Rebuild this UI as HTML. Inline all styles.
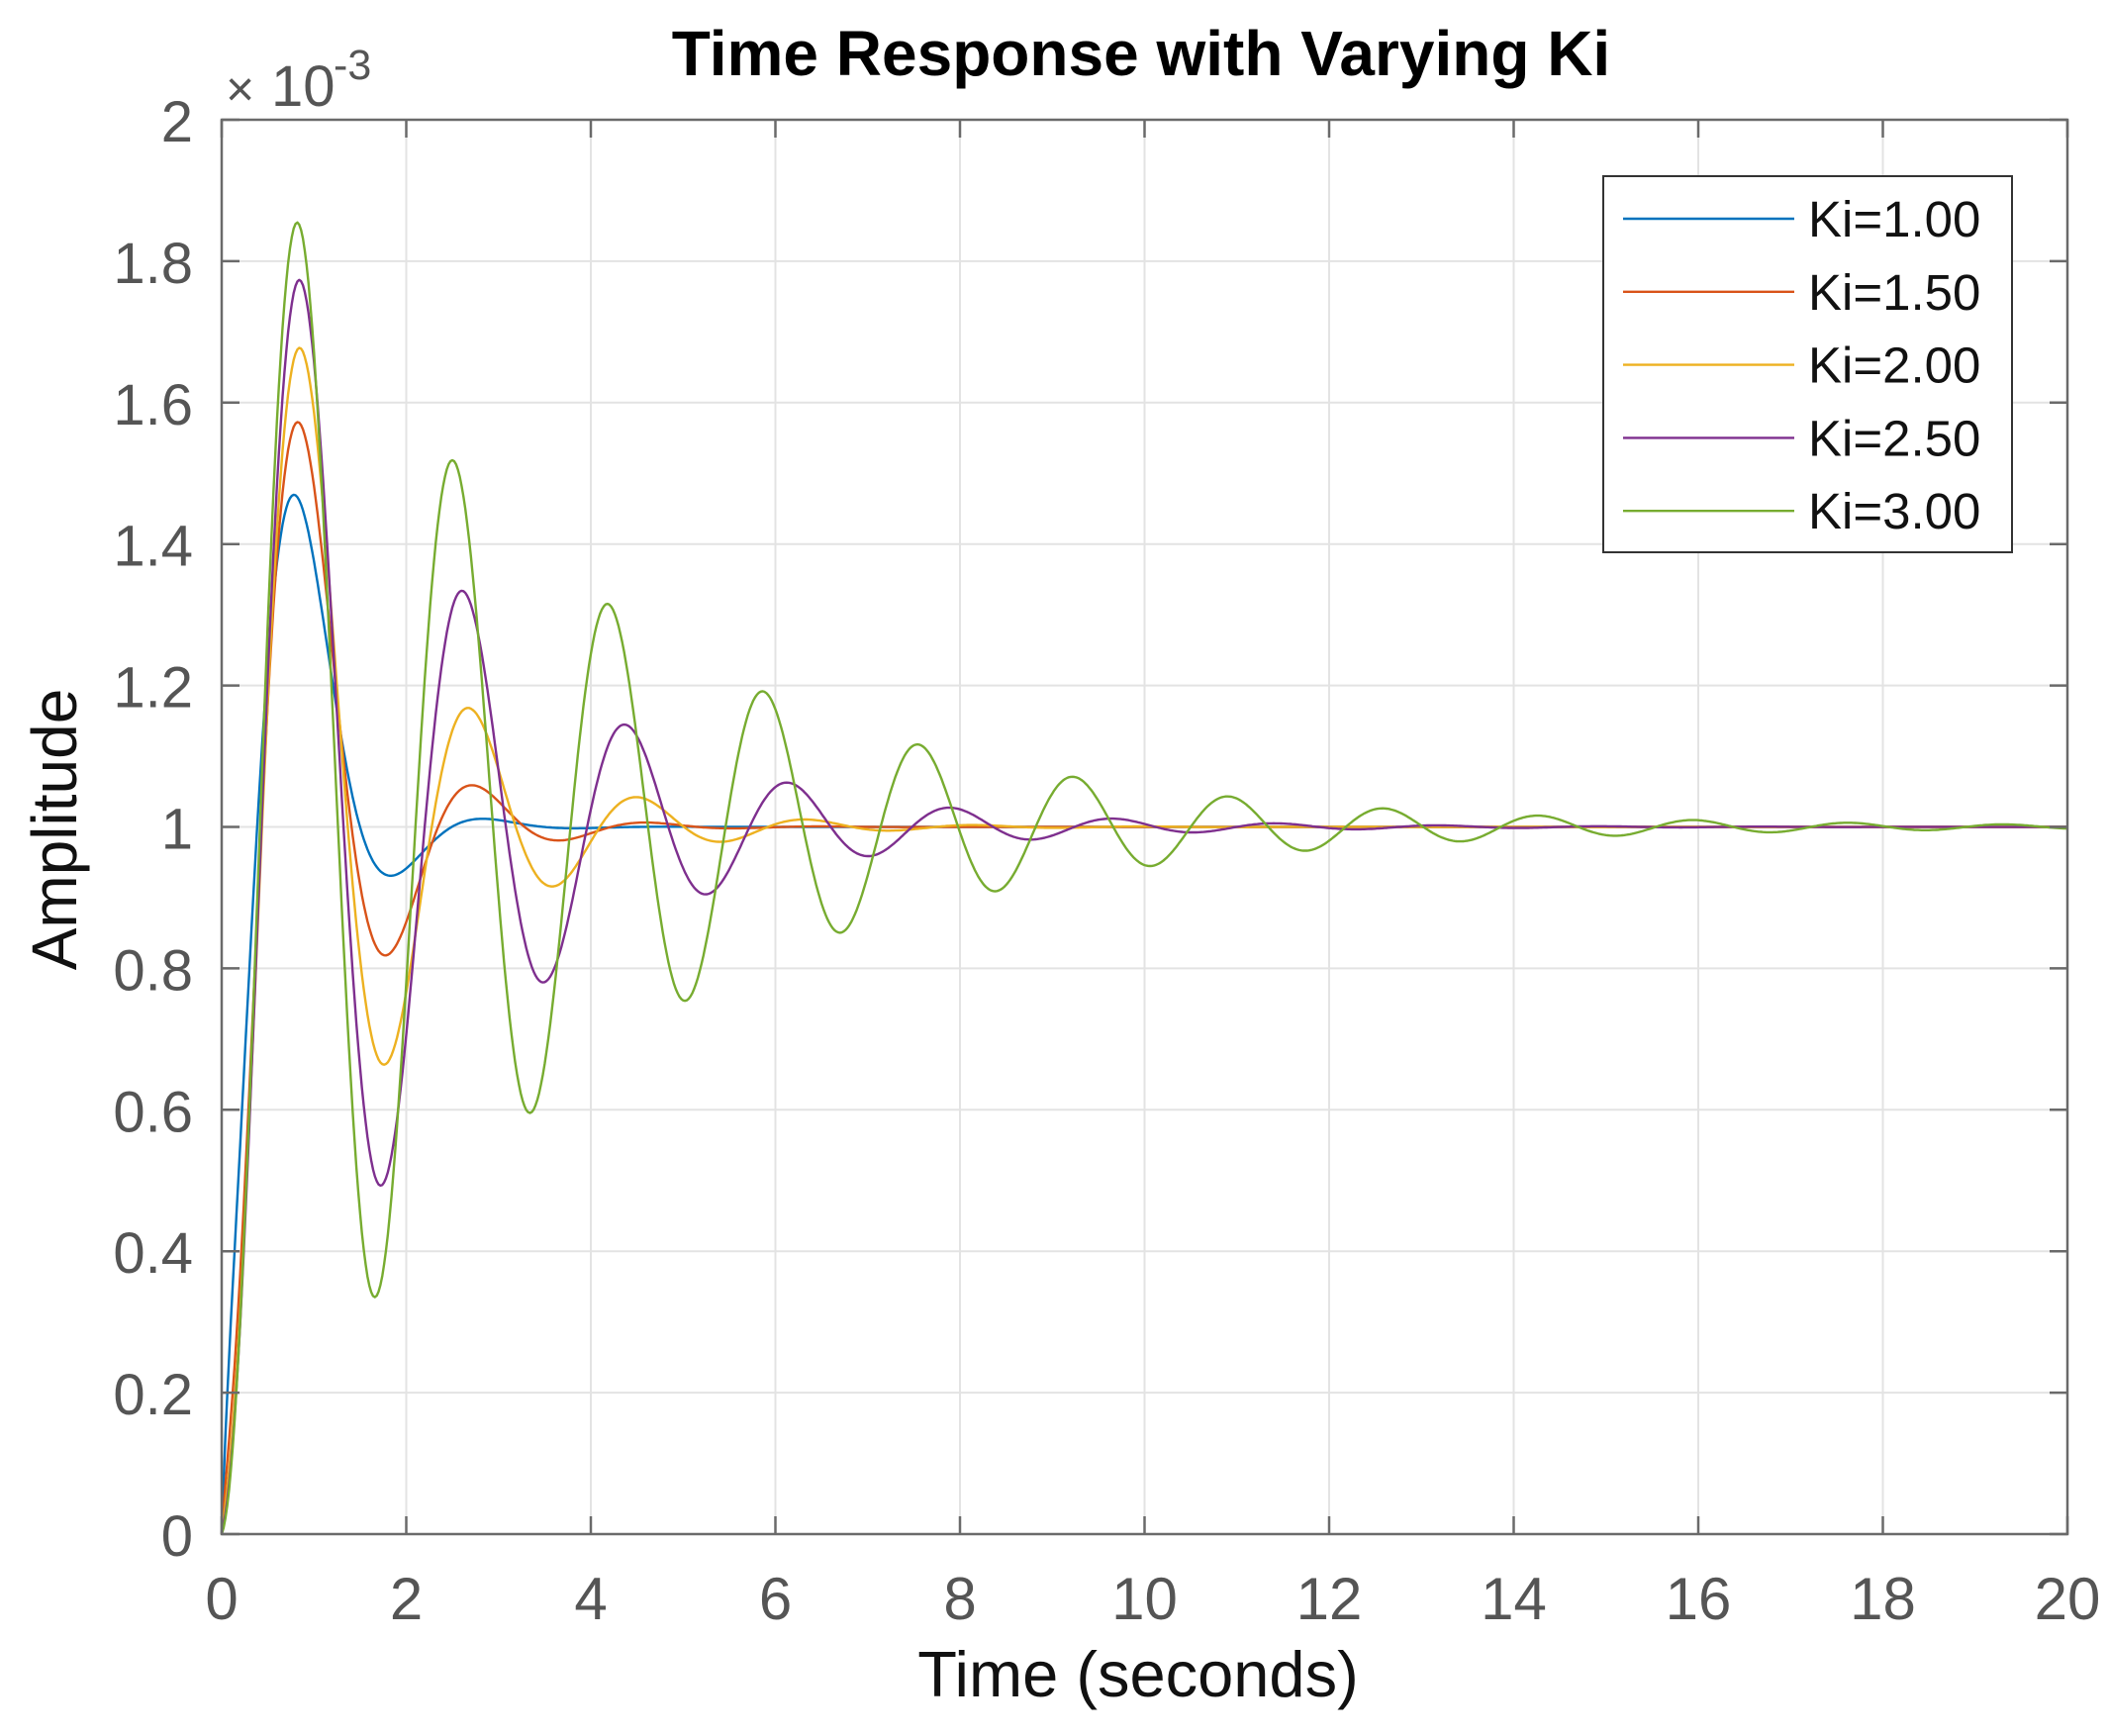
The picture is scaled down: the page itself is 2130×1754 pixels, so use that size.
<!DOCTYPE html>
<html><head><meta charset="utf-8"><style>
html,body{margin:0;padding:0;background:#fff;}
svg{display:block;font-family:"Liberation Sans",Arial,sans-serif;}
</style></head><body>
<svg id="s" width="2130" height="1754" viewBox="0 0 2130 1754" xmlns="http://www.w3.org/2000/svg">
<rect width="2130" height="1754" fill="#fff"/>
<g id="grid" stroke="#e3e3e3" stroke-width="2"></g>
<g id="curves" fill="none" stroke-width="2.4" stroke-linejoin="round"></g>
<rect x="224" y="121" width="1865" height="1429" fill="none" stroke="#6a6a6a" stroke-width="2.5"/>
<g id="ticks" stroke="#6a6a6a" stroke-width="2.5"></g>
<g id="labels" fill="#555" font-size="58"></g>
<text x="1153" y="76" text-anchor="middle" font-size="64" font-weight="bold" fill="#000">Time Response with Varying Ki</text>
<text x="1150" y="1714" text-anchor="middle" font-size="65" fill="#111">Time (seconds)</text>
<text transform="translate(77,838) rotate(-90)" text-anchor="middle" font-size="64" fill="#111">Amplitude</text>
<text x="228" y="107" font-size="50" fill="#555">×</text>
<text x="274" y="107" font-size="58" fill="#555">10</text>
<text x="337" y="80" font-size="43" fill="#555">-3</text>
<rect x="1620" y="178" width="413" height="380" fill="#fff" stroke="#333" stroke-width="2"/>
<g id="legend" font-size="51" fill="#111"></g>
</svg>
<script>
var X0=224,X1=2089,Y0=1550,Y1=121;
function px(t){return X0+(X1-X0)*t/20;}
function py(v){return Y0-(Y0-Y1)*v/2;}
var g=document.getElementById('grid'),tk=document.getElementById('ticks'),lb=document.getElementById('labels');
var NS="http://www.w3.org/2000/svg";
function el(p,n,a,txt){var e=document.createElementNS(NS,n);for(var k in a)e.setAttribute(k,a[k]);if(txt)e.textContent=txt;p.appendChild(e);return e;}
for(var i=0;i<=10;i++){var x=px(i*2);
 if(i>0&&i<10)el(g,'line',{x1:x,y1:Y1,x2:x,y2:Y0});
 el(tk,'line',{x1:x,y1:Y0,x2:x,y2:Y0-18});el(tk,'line',{x1:x,y1:Y1,x2:x,y2:Y1+18});
 el(lb,'text',{x:x,y:1636,'text-anchor':'middle','font-size':60},String(i*2));}
for(var j=0;j<=10;j++){var v=j*0.2,y=py(v);
 if(j>0&&j<10)el(g,'line',{x1:X0,y1:y,x2:X1,y2:y});
 el(tk,'line',{x1:X0,y1:y,x2:X0+18,y2:y});el(tk,'line',{x1:X1,y1:y,x2:X1-18,y2:y});
 var s=(j==0)?"0":(j==5)?"1":(j==10)?"2":v.toFixed(1);
 el(lb,'text',{x:195,y:y+22,'text-anchor':'end'},s);}
var ser=[
 {c:"#0072BD",w:3.15,s:1.8,A:2.15,b:6,n:"Ki=1.00"},
 {c:"#D95319",w:3.35,s:1.2,A:1.62,b:7,n:"Ki=1.50"},
 {c:"#EDB120",w:3.45,s:0.76,A:1.31,b:7,n:"Ki=2.00"},
 {c:"#7E2F8E",w:3.57,s:0.475,A:1.16,b:7,n:"Ki=2.50"},
 {c:"#77AC30",w:3.74,s:0.296,A:1.09,b:7,n:"Ki=3.00"}];
var cv=document.getElementById('curves'),lg=document.getElementById('legend');
ser.forEach(function(p,k){
 var d="";
 for(var i=0;i<=1000;i++){var t=i*0.02;
  var y=1-p.A*Math.exp(-p.s*t)*Math.cos(p.w*t)-(1-p.A)*Math.exp(-p.b*t)*(1+p.b*t);
  if(y<0)y=0;
  d+=(i?"L":"M")+px(t).toFixed(1)+" "+py(y).toFixed(1);}
 el(cv,'path',{d:d,stroke:p.c});
 var ly=221+k*73.8;
 el(lg,'line',{x1:1640,y1:ly,x2:1813,y2:ly,stroke:p.c,'stroke-width':2.4});
 el(lg,'text',{x:1827,y:ly+18},p.n);
});
</script>
</body></html>
